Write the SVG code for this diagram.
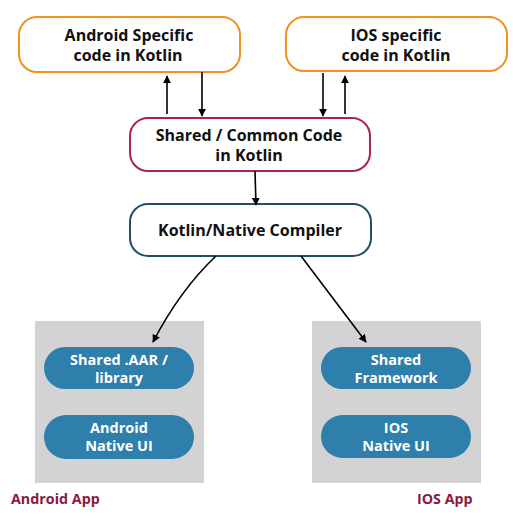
<svg xmlns="http://www.w3.org/2000/svg" width="513" height="526" viewBox="0 0 513 526">
<style>
.t{font-family:"Open Sans","Liberation Sans",sans-serif;font-weight:bold;font-size:16px;text-anchor:middle;fill:#111}
.s{font-size:14.5px}
.w{fill:#fff}
.lbl{font-family:"Open Sans","Liberation Sans",sans-serif;font-weight:bold;font-size:14.3px;fill:#8b1a3f}
.c{fill:none;stroke:#000;stroke-width:1.6}
.pill{fill:#2e7fab}
.grey{fill:#d3d3d3}
</style>
<defs>
<marker id="ah" viewBox="0 0 10 10" refX="9" refY="5" markerWidth="8" markerHeight="8" orient="auto" markerUnits="userSpaceOnUse">
<path d="M0,0 L10,5 L0,10 Z" fill="#000"/>
</marker>
</defs>
<rect width="513" height="526" fill="#fff"/>
<g id="android-app">
<rect class="grey" x="35" y="321" width="169" height="162"/>
<text class="lbl" x="11" y="504">Android App</text>
</g>
<g id="ios-app">
<rect class="grey" x="312" y="321" width="169" height="162"/>
<text class="lbl" x="417" y="504">IOS App</text>
</g>
<g id="android-specific">
<rect x="19" y="17" width="221" height="55" rx="18" fill="#fff" stroke="#f0921e" stroke-width="2"/>
<text class="t" x="129" y="41">Android Specific</text>
<text class="t" x="128" y="61">code in Kotlin</text>
</g>
<g id="ios-specific">
<rect x="286" y="17" width="221" height="54" rx="18" fill="#fff" stroke="#f0921e" stroke-width="2"/>
<text class="t" x="396" y="41">IOS specific</text>
<text class="t" x="396" y="61">code in Kotlin</text>
</g>
<g id="shared">
<rect x="130" y="118" width="240" height="53" rx="18" fill="#fff" stroke="#a8234f" stroke-width="2"/>
<text class="t" x="249" y="141">Shared / Common Code</text>
<text class="t" x="249" y="161">in Kotlin</text>
</g>
<g id="compiler">
<rect x="130" y="204" width="241" height="52" rx="18" fill="#fff" stroke="#1f4e6b" stroke-width="2"/>
<text class="t" x="250" y="236">Kotlin/Native Compiler</text>
</g>
<g id="shared-aar">
<rect class="pill" x="44" y="347" width="150" height="42" rx="21"/>
<text class="t w s" x="119" y="365">Shared .AAR /</text>
<text class="t w s" x="119" y="383">library</text>
</g>
<g id="android-native-ui">
<rect class="pill" x="44" y="415" width="150" height="44" rx="22"/>
<text class="t w s" x="119" y="433">Android</text>
<text class="t w s" x="119" y="451">Native UI</text>
</g>
<g id="shared-framework">
<rect class="pill" x="321" y="347" width="150" height="42" rx="21"/>
<text class="t w s" x="396" y="365">Shared</text>
<text class="t w s" x="396" y="383">Framework</text>
</g>
<g id="ios-native-ui">
<rect class="pill" x="321" y="415" width="150" height="43" rx="21.5"/>
<text class="t w s" x="396" y="433">IOS</text>
<text class="t w s" x="396" y="451">Native UI</text>
</g>
<g id="connectors">
<path class="c" d="M167,114 L167,76" marker-end="url(#ah)"/>
<path class="c" d="M202,72 L202,116" marker-end="url(#ah)"/>
<path class="c" d="M323,73 L323,116" marker-end="url(#ah)"/>
<path class="c" d="M345,114 L345,76" marker-end="url(#ah)"/>
<path class="c" d="M255,171 L256,205" marker-end="url(#ah)"/>
<path class="c" d="M216,256 Q180,290 153,342" marker-end="url(#ah)"/>
<path class="c" d="M301,256 L366,342" marker-end="url(#ah)"/>
</g>
</svg>
